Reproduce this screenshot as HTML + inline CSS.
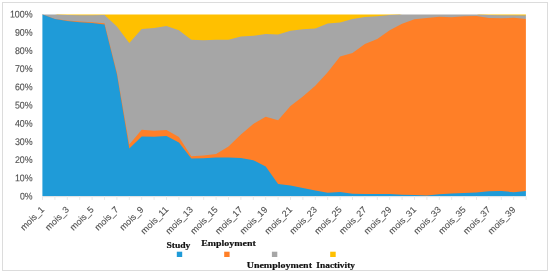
<!DOCTYPE html>
<html><head><meta charset="utf-8"><title>Chart</title>
<style>
html,body{margin:0;padding:0;background:#fff;}
body{width:550px;height:273px;position:relative;overflow:hidden;}
text.ax{font-family:"Liberation Sans",Arial,sans-serif;font-size:9px;fill:#505050;stroke:#505050;stroke-width:0.12px;}
text.xl{font-size:9px;}
text.yl{font-size:9.7px;}
text.lg{font-family:"Liberation Serif","Times New Roman",serif;font-weight:bold;font-size:9.2px;fill:#111;stroke:#111;stroke-width:0.2px;}
</style></head><body>
<svg width="550" height="273" viewBox="0 0 550 273" style="position:absolute;left:0;top:0">
<rect x="0" y="0" width="550" height="273" fill="#fff"/>
<rect x="2.5" y="2.5" width="545" height="268" fill="#fff" stroke="#dcdcdc" stroke-width="1"/>
<path d="M54.9,14.6 L402.1,14.6 L389.7,17.1 L377.3,18.2 L364.9,19.1 L352.5,21.1 L340.1,24.6 L327.7,25.5 L315.3,30.4 L302.9,31.3 L290.5,32.8 L278.1,36.6 L265.7,36.0 L253.3,37.8 L240.9,38.6 L228.5,41.7 L216.1,41.7 L203.7,42.2 L191.3,41.8 L178.9,32.2 L166.5,27.9 L154.1,30.0 L141.7,30.9 L129.3,44.9 L116.9,28.4 L104.5,17.1 L92.1,17.2 L79.7,17.2 L67.3,17.1 Z" fill="#ffc000"/>
<path d="M476.5,14.6 L529.1,14.6 L529.1,17.4 L526.1,17.4 L513.7,17.3 L501.3,17.3 L488.9,16.9 Z" fill="#ffc000"/>
<path d="M39.5,199.2 L39.5,14.6 L42.5,14.6 54.9,14.6 67.3,15.1 79.7,15.2 92.1,15.2 104.5,15.1 116.9,26.4 129.3,42.9 141.7,28.9 154.1,28.0 166.5,25.9 178.9,30.2 191.3,39.8 203.7,40.2 216.1,39.7 228.5,39.7 240.9,36.6 253.3,35.8 265.7,34.0 278.1,34.6 290.5,30.8 302.9,29.3 315.3,28.4 327.7,23.5 340.1,22.6 352.5,19.1 364.9,17.1 377.3,16.2 389.7,15.1 402.1,14.6 414.5,14.6 426.9,14.6 439.3,14.6 451.7,14.6 464.1,14.6 476.5,14.6 488.9,14.9 501.3,15.3 513.7,15.3 526.1,15.4 L529.1,15.4 L529.1,199.2 Z" fill="#a6a6a6"/>
<path d="M39.5,199.2 L39.5,14.6 L42.5,14.6 54.9,19.0 67.3,20.6 79.7,21.5 92.1,22.2 104.5,23.3 116.9,72.7 129.3,144.4 141.7,129.7 154.1,130.8 166.5,129.9 178.9,137.0 191.3,156.2 203.7,155.5 216.1,153.9 228.5,146.4 240.9,134.5 253.3,123.9 265.7,116.8 278.1,120.3 290.5,105.9 302.9,96.5 315.3,85.8 327.7,72.2 340.1,56.5 352.5,52.9 364.9,44.0 377.3,38.9 389.7,30.2 402.1,23.7 414.5,19.3 426.9,17.9 439.3,16.8 451.7,17.3 464.1,16.2 476.5,16.0 488.9,18.1 501.3,18.3 513.7,17.8 526.1,19.0 L529.1,19.0 L529.1,199.2 Z" fill="#ff7f27"/>
<path d="M39.5,199.2 L39.5,14.6 L42.5,14.6 54.9,19.0 67.3,21.0 79.7,22.2 92.1,23.1 104.5,24.6 116.9,74.2 129.3,148.4 141.7,136.5 154.1,136.8 166.5,135.9 178.9,142.4 191.3,158.6 203.7,158.2 216.1,157.5 228.5,157.5 240.9,158.1 253.3,160.2 265.7,166.6 278.1,183.9 290.5,185.5 302.9,188.0 315.3,190.6 327.7,192.7 340.1,192.0 352.5,193.7 364.9,194.0 377.3,194.0 389.7,194.0 402.1,194.7 414.5,195.1 426.9,195.6 439.3,194.2 451.7,193.6 464.1,192.9 476.5,192.5 488.9,191.2 501.3,191.1 513.7,192.2 526.1,191.1 L529.1,191.1 L529.1,199.2 Z" fill="#1f9bd8"/>
<rect x="37.5" y="10" width="4.9" height="195" fill="#fff"/>
<rect x="525.9" y="10" width="6" height="195" fill="#fff"/>
<rect x="37.5" y="196.2" width="495" height="5" fill="#fff"/>
<path d="M42.5,196.7 L526.1,196.7" stroke="#e2e2e2" stroke-width="1" fill="none"/>
<path d="M42.5,196.2 v3.7 M54.9,196.2 v3.7 M67.3,196.2 v3.7 M79.7,196.2 v3.7 M92.1,196.2 v3.7 M104.5,196.2 v3.7 M116.9,196.2 v3.7 M129.3,196.2 v3.7 M141.7,196.2 v3.7 M154.1,196.2 v3.7 M166.5,196.2 v3.7 M178.9,196.2 v3.7 M191.3,196.2 v3.7 M203.7,196.2 v3.7 M216.1,196.2 v3.7 M228.5,196.2 v3.7 M240.9,196.2 v3.7 M253.3,196.2 v3.7 M265.7,196.2 v3.7 M278.1,196.2 v3.7 M290.5,196.2 v3.7 M302.9,196.2 v3.7 M315.3,196.2 v3.7 M327.7,196.2 v3.7 M340.1,196.2 v3.7 M352.5,196.2 v3.7 M364.9,196.2 v3.7 M377.3,196.2 v3.7 M389.7,196.2 v3.7 M402.1,196.2 v3.7 M414.5,196.2 v3.7 M426.9,196.2 v3.7 M439.3,196.2 v3.7 M451.7,196.2 v3.7 M464.1,196.2 v3.7 M476.5,196.2 v3.7 M488.9,196.2 v3.7 M501.3,196.2 v3.7 M513.7,196.2 v3.7 M526.1,196.2 v3.7 " stroke="#e9e9e9" stroke-width="1" fill="none"/>
<text class="ax yl" transform="translate(20.0,199.50) rotate(-0.04)" textLength="12.6" lengthAdjust="spacingAndGlyphs">0%</text>
<text class="ax yl" transform="translate(14.9,181.30) rotate(-0.04)" textLength="17.7" lengthAdjust="spacingAndGlyphs">10%</text>
<text class="ax yl" transform="translate(14.9,163.10) rotate(-0.04)" textLength="17.7" lengthAdjust="spacingAndGlyphs">20%</text>
<text class="ax yl" transform="translate(14.9,144.90) rotate(-0.04)" textLength="17.7" lengthAdjust="spacingAndGlyphs">30%</text>
<text class="ax yl" transform="translate(14.9,126.70) rotate(-0.04)" textLength="17.7" lengthAdjust="spacingAndGlyphs">40%</text>
<text class="ax yl" transform="translate(14.9,108.50) rotate(-0.04)" textLength="17.7" lengthAdjust="spacingAndGlyphs">50%</text>
<text class="ax yl" transform="translate(14.9,90.30) rotate(-0.04)" textLength="17.7" lengthAdjust="spacingAndGlyphs">60%</text>
<text class="ax yl" transform="translate(14.9,72.10) rotate(-0.04)" textLength="17.7" lengthAdjust="spacingAndGlyphs">70%</text>
<text class="ax yl" transform="translate(14.9,53.90) rotate(-0.04)" textLength="17.7" lengthAdjust="spacingAndGlyphs">80%</text>
<text class="ax yl" transform="translate(14.9,35.70) rotate(-0.04)" textLength="17.7" lengthAdjust="spacingAndGlyphs">90%</text>
<text class="ax yl" transform="translate(9.9,17.50) rotate(-0.04)" textLength="22.7" lengthAdjust="spacingAndGlyphs">100%</text>
<text class="ax xl" transform="translate(44.8,210.2) rotate(-45)" x="-29.5" y="0" textLength="29.5" lengthAdjust="spacingAndGlyphs">mois_1</text>
<text class="ax xl" transform="translate(69.6,210.2) rotate(-45)" x="-29.5" y="0" textLength="29.5" lengthAdjust="spacingAndGlyphs">mois_3</text>
<text class="ax xl" transform="translate(94.4,210.2) rotate(-45)" x="-29.5" y="0" textLength="29.5" lengthAdjust="spacingAndGlyphs">mois_5</text>
<text class="ax xl" transform="translate(119.2,210.2) rotate(-45)" x="-29.5" y="0" textLength="29.5" lengthAdjust="spacingAndGlyphs">mois_7</text>
<text class="ax xl" transform="translate(144.0,210.2) rotate(-45)" x="-29.5" y="0" textLength="29.5" lengthAdjust="spacingAndGlyphs">mois_9</text>
<text class="ax xl" transform="translate(168.8,210.2) rotate(-45)" x="-34.6" y="0" textLength="34.6" lengthAdjust="spacingAndGlyphs">mois_11</text>
<text class="ax xl" transform="translate(193.6,210.2) rotate(-45)" x="-34.6" y="0" textLength="34.6" lengthAdjust="spacingAndGlyphs">mois_13</text>
<text class="ax xl" transform="translate(218.4,210.2) rotate(-45)" x="-34.6" y="0" textLength="34.6" lengthAdjust="spacingAndGlyphs">mois_15</text>
<text class="ax xl" transform="translate(243.2,210.2) rotate(-45)" x="-34.6" y="0" textLength="34.6" lengthAdjust="spacingAndGlyphs">mois_17</text>
<text class="ax xl" transform="translate(268.0,210.2) rotate(-45)" x="-34.6" y="0" textLength="34.6" lengthAdjust="spacingAndGlyphs">mois_19</text>
<text class="ax xl" transform="translate(292.8,210.2) rotate(-45)" x="-34.6" y="0" textLength="34.6" lengthAdjust="spacingAndGlyphs">mois_21</text>
<text class="ax xl" transform="translate(317.6,210.2) rotate(-45)" x="-34.6" y="0" textLength="34.6" lengthAdjust="spacingAndGlyphs">mois_23</text>
<text class="ax xl" transform="translate(342.4,210.2) rotate(-45)" x="-34.6" y="0" textLength="34.6" lengthAdjust="spacingAndGlyphs">mois_25</text>
<text class="ax xl" transform="translate(367.2,210.2) rotate(-45)" x="-34.6" y="0" textLength="34.6" lengthAdjust="spacingAndGlyphs">mois_27</text>
<text class="ax xl" transform="translate(392.0,210.2) rotate(-45)" x="-34.6" y="0" textLength="34.6" lengthAdjust="spacingAndGlyphs">mois_29</text>
<text class="ax xl" transform="translate(416.8,210.2) rotate(-45)" x="-34.6" y="0" textLength="34.6" lengthAdjust="spacingAndGlyphs">mois_31</text>
<text class="ax xl" transform="translate(441.6,210.2) rotate(-45)" x="-34.6" y="0" textLength="34.6" lengthAdjust="spacingAndGlyphs">mois_33</text>
<text class="ax xl" transform="translate(466.4,210.2) rotate(-45)" x="-34.6" y="0" textLength="34.6" lengthAdjust="spacingAndGlyphs">mois_35</text>
<text class="ax xl" transform="translate(491.2,210.2) rotate(-45)" x="-34.6" y="0" textLength="34.6" lengthAdjust="spacingAndGlyphs">mois_37</text>
<text class="ax xl" transform="translate(516.0,210.2) rotate(-45)" x="-34.6" y="0" textLength="34.6" lengthAdjust="spacingAndGlyphs">mois_39</text>
<rect x="176.8" y="251.7" width="5.4" height="5.3" fill="#1f9bd8"/>
<rect x="224.2" y="251.7" width="5.4" height="5.3" fill="#ff7f27"/>
<rect x="271.9" y="251.7" width="5.4" height="5.3" fill="#a6a6a6"/>
<rect x="330.2" y="251.7" width="5.5" height="5.3" fill="#ffc000"/>
<text class="lg" x="166.5" y="248.1" textLength="23.9" lengthAdjust="spacingAndGlyphs">Study</text>
<text class="lg" x="201.2" y="245.8" textLength="54.6" lengthAdjust="spacingAndGlyphs">Employment</text>
<text class="lg" x="246.7" y="268" textLength="65.3" lengthAdjust="spacingAndGlyphs">Unemployment</text>
<text class="lg" x="316.3" y="268" textLength="38.7" lengthAdjust="spacingAndGlyphs">Inactivity</text>
</svg>
</body></html>
